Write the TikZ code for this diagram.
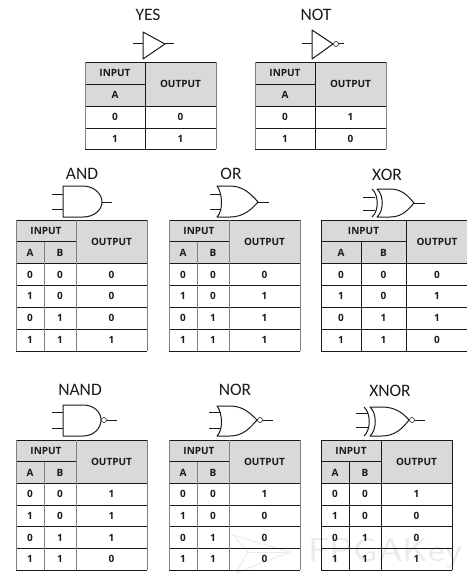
\documentclass[tikz,border=0pt]{standalone}
\usepackage{xcolor}
\usepackage{fontspec}
\setmainfont{Carlito}
\newfontfamily\cellfont{Open Sans}
\usetikzlibrary{calc}
\definecolor{head}{HTML}{D9D9D9}
\definecolor{ink}{HTML}{1A1A1A}
\definecolor{midrule}{HTML}{808080}
\definecolor{pale}{HTML}{EBEBEB}
% name, x0, x1, x2, x3, y top, row height, vertical colour, rows a/b/o
\newcommand{\tabletwo}[9]{
  \fill[head] (#2,#6) rectangle (#5,#6+2*#7);
  \foreach \k in {1,...,5}
    \draw[tline] (#2,#6+\k*#7+#7) -- (#5,#6+\k*#7+#7);
  \draw[tline] (#2,#6) -- (#5,#6);
  \draw[tline] (#2,#6+#7) -- (#4,#6+#7);
  \draw[tline,draw=#8] (#2,#6) -- (#2,#6+6*#7);
  \draw[tline,draw=#8] (#3,#6+#7) -- (#3,#6+6*#7);
  \draw[tline,draw=#8] (#4,#6) -- (#4,#6+6*#7);
  \draw[tline,draw=#8] (#5,#6) -- (#5,#6+6*#7);
  \node[cell] (#1in) at ({(#2+#4)/2},#6+0.5*#7) {INPUT};
  \node[cell] (#1out) at ({(#4+#5)/2},#6+#7) {OUTPUT};
  \node[cell] (#1a) at ({(#2+#3)/2},#6+1.5*#7) {A};
  \node[cell] (#1b) at ({(#3+#4)/2},#6+1.5*#7) {B};
  \foreach \a/\b/\o [count=\r from 2] in {#9} {
    \node[cell] (#1a\r) at ({(#2+#3)/2},#6+\r*#7+0.5*#7) {\a};
    \node[cell] (#1b\r) at ({(#3+#4)/2},#6+\r*#7+0.5*#7) {\b};
    \node[cell] (#1o\r) at ({(#4+#5)/2},#6+\r*#7+0.5*#7) {\o};
  }
}
% name, x0, x1, x2, rows a/o
\newcommand{\tableone}[5]{
  \fill[head] (#2,62) rectangle (#4,106);
  \foreach \yy in {62,106,128,149}
    \draw[tline] (#2,\yy) -- (#4,\yy);
  \draw[tline] (#2,84) -- (#3,84);
  \draw[tline,draw=midrule] (#2,62) -- (#2,149);
  \draw[tline,draw=ink] (#3,62) -- (#3,149);
  \draw[tline,draw=midrule] (#4,62) -- (#4,149);
  \node[cell] (#1in) at ({(#2+#3)/2},73) {INPUT};
  \node[cell] (#1out) at ({(#3+#4)/2},84) {OUTPUT};
  \node[cell] (#1a) at ({(#2+#3)/2},95) {A};
  \foreach \a/\o/\yy [count=\r] in {#5} {
    \node[cell] (#1a\r) at ({(#2+#3)/2},\yy) {\a};
    \node[cell] (#1o\r) at ({(#3+#4)/2},\yy) {\o};
  }
}
\begin{document}
\begin{tikzpicture}[x=1pt,y=-1pt,
  tline/.style={line width=0.9pt,draw=ink},
  cell/.style={font=\cellfont\fontsize{10}{12}\selectfont\bfseries,text=ink,inner sep=0pt},
  title/.style={font=\fontsize{17.5}{20}\selectfont,text=ink,inner sep=0pt},
  gate/.style={line width=1pt,draw=ink,line join=round},
  bubble/.style={circle,draw=ink,fill=white,line width=0.6pt,minimum size=5pt,inner sep=0pt}]
\useasboundingbox (0,0) rectangle (466,575);
% watermark
\node[font=\sffamily\fontsize{33}{33}\selectfont,text=pale,anchor=west,inner sep=0pt,xscale=1.2] (mark) at (308,553) {FPGAKey};
\draw[pale,line width=1pt,line join=round] (233,535) -- (290,552) -- (236,573) -- (248,552) -- cycle;
\draw[pale,line width=1pt] (248,552) -- (290,552);
% titles
\node[title] (tyes) at (148,15) {YES};
\node[title] (tnot) at (316,15) {NOT};
\node[title] (tand) at (82,174) {AND};
\node[title] (tor) at (231,174) {OR};
\node[title] (txor) at (387,175) {XOR};
\node[title] (tnand) at (80,390) {NAND};
\node[title] (tnor) at (235,390) {NOR};
\node[title] (txnor) at (390,391) {XNOR};
% tables
\tableone{yes}{85}{145}{216}{0/0/117,1/1/138.5}
\tableone{not}{255}{315}{386}{0/1/117,1/0/138.5}
\tabletwo{and}{16}{44}{76}{147}{220}{21.83}{midrule}{0/0/0,1/0/0,0/1/0,1/1/1}
\tabletwo{or}{169}{197}{229}{300}{220}{21.83}{midrule}{0/0/0,1/0/1,0/1/1,1/1/1}
\tabletwo{xor}{321}{361}{406}{468}{220}{21.83}{ink}{0/0/0,1/0/1,0/1/1,1/1/0}
\tabletwo{nand}{16}{44}{76}{147}{440}{21.67}{midrule}{0/0/1,1/0/1,0/1/1,1/1/0}
\tabletwo{nor}{169}{197}{229}{300}{440}{21.67}{midrule}{0/0/1,1/0/0,0/1/0,1/1/0}
\tabletwo{xnor}{321}{349}{381}{452}{440}{21.67}{ink}{0/0/1,1/0/0,0/1/0,1/1/1}
% yes, not
\draw[gate] (143,32) -- (165,44) -- (143,59) -- cycle;
\draw[gate] (133,44) -- (143,44) (165,44) -- (174,44);
\draw[gate] (312,30) -- (333,44) -- (312,59) -- cycle;
\draw[gate] (302,44) -- (312,44) (338,44) -- (344,44);
\node[bubble] (bnot) at (336,44) {};
% and, nand
\draw[gate] (63,186) -- (83,186) .. controls (94,186) and (102,194) .. (102,202) .. controls (102,210) and (94,217) .. (83,217) -- (63,217) -- cycle;
\draw[gate] (52,194) -- (63,194) (52,209) -- (63,209) (102,202) -- (112,202);
\draw[gate] (63,405) -- (83,405) .. controls (94,405) and (101,412) .. (101,420) .. controls (101,428) and (94,436) .. (83,436) -- (63,436) -- cycle;
\draw[gate] (52,412) -- (63,412) (52,428) -- (63,428) (107,420) -- (117,420);
\node[bubble] (bnand) at (104,420) {};
% or, nor
\draw[gate] (217,186) .. controls (222,192) and (224,210) .. (217,217) -- (230,217) .. controls (243,217) and (251,210) .. (258,202) .. controls (251,194) and (243,186) .. (230,186) -- cycle;
\draw[gate] (210,194) -- (221,194) (210,209) -- (221,209) (258,202) -- (269,202);
\draw[gate] (217,406) .. controls (222,412) and (224,429) .. (217,436) -- (230,436) .. controls (243,436) and (250,428) .. (257,420) .. controls (250,413) and (243,406) .. (230,406) -- cycle;
\draw[gate] (209,412) -- (221,412) (209,428) -- (221,428) (263,420) -- (273,420);
\node[bubble] (bnor) at (260,420) {};
% xor, xnor
\draw[gate] (377,189) .. controls (384,195) and (384,211) .. (377,217) -- (390,217) .. controls (402,217) and (408,210) .. (414,203) .. controls (408,196) and (402,189) .. (390,189) -- cycle;
\draw[gate] (372,189) .. controls (379,195) and (379,211) .. (372,217);
\draw[gate] (363,197) -- (375,197) (363,210) -- (375,210) (414,203) -- (425,203);
\draw[gate] (370,407) .. controls (377,413) and (377,430) .. (370,436) -- (382,436) .. controls (395,436) and (403,428) .. (409,420) .. controls (403,413) and (395,407) .. (382,407) -- cycle;
\draw[gate] (364,407) .. controls (371,413) and (371,430) .. (364,436);
\draw[gate] (356,413) -- (368,413) (356,427) -- (368,427) (415,420) -- (425,420);
\node[bubble] (bxnor) at (412,420) {};
\end{tikzpicture}
\end{document}
